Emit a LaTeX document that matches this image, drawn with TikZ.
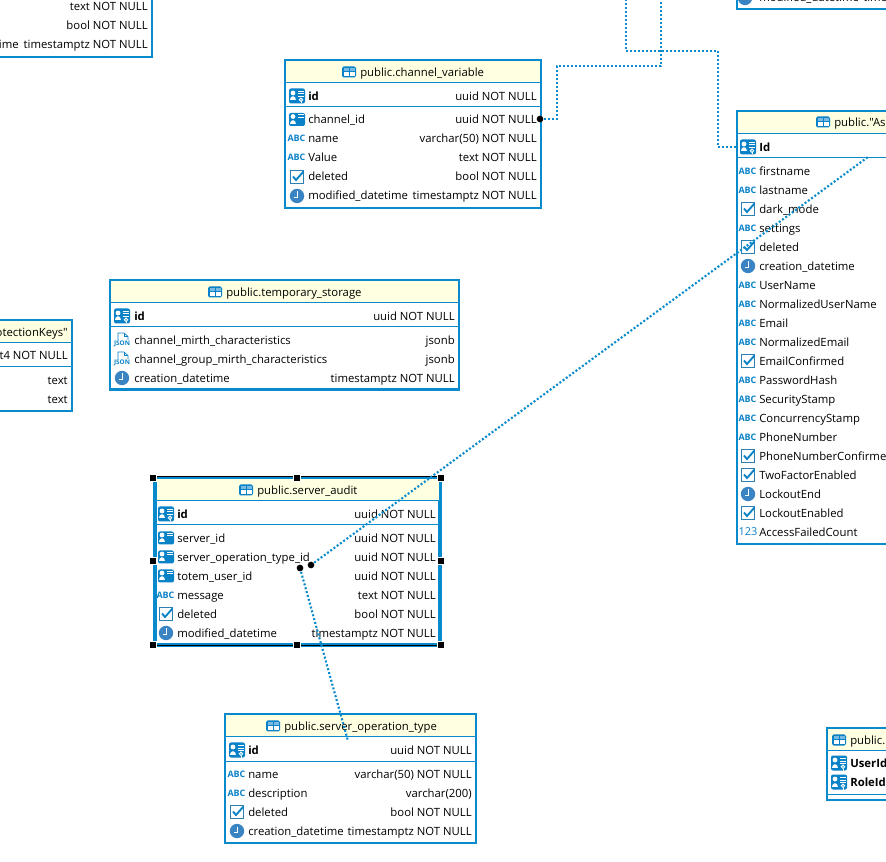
\documentclass[tikz,border=0pt]{standalone}
\usepackage{fontspec}
\setmainfont{Open Sans}[Ligatures=TeXOff]
\newcounter{nd}
\definecolor{bl}{RGB}{8,138,204}
\definecolor{ic}{RGB}{10,130,200}
\definecolor{clk}{RGB}{58,132,196}
\definecolor{hd}{RGB}{255,255,225}
\tikzset{
  tbl/.style={draw=bl,line width=1.6pt,fill=white},
  hdr/.style={fill=hd,draw=none},
  dv/.style={draw=bl,line width=.75pt},
  lnk/.style={draw=bl,line width=1.6pt,dash pattern=on 1.5pt off 1.5pt},
  dotb/.style={circle,fill=black,inner sep=0pt,minimum size=5pt},
  hnd/.style={fill=black,draw=white,line width=.5pt,inner sep=0pt,minimum size=5pt},
  tx/.style={inner sep=0pt,font=\fontsize{8.5}{10}\selectfont,text=black},
  txb/.style={tx,font=\fontsize{8.5}{10}\selectfont\bfseries},
  abc/.style={inner sep=0pt,text=ic,font=\fontsize{6.7}{8}\selectfont\bfseries},
}
% icons
\newcommand{\personicon}{%
  \fill[white] (-4,-3) circle (2.4);
  \fill[white] (-7.2,4.5) .. controls (-7.2,-.5) and (-0.8,-.5) .. (-0.8,4.5) -- cycle;
  \fill[white] (1,-5) rectangle (6.5,-4);
  \fill[white] (1,-2.5) rectangle (6.5,-1.5);}
\newcommand{\iconPK}[2]{\begin{scope}[shift={(#1,#2)}]
  \fill[ic,rounded corners=1.5pt] (-8,-7.5) rectangle (8,7.5);
  \personicon
  \fill[white] (1,0) rectangle (6.5,1);
  \draw[white,line width=.7pt] (4,3.8) circle (1.7);
  \draw[white,line width=.7pt] (4,5.5) -- (4,7.5);
  \end{scope}}
\newcommand{\iconFK}[2]{\begin{scope}[shift={(#1,#2)}]
  \fill[ic,rounded corners=1.5pt] (-8,-6.5) rectangle (8,6.5);
  \personicon
  \end{scope}}
\newcommand{\iconABC}[2]{\stepcounter{nd}\node[abc] (n\thend) at (#1-.5,#2) {ABC};}
\newcommand{\iconNUM}[2]{\stepcounter{nd}\node[inner sep=0pt,text=ic,font=\fontsize{8.2}{9}\selectfont] (n\thend) at (#1,#2) {123};}
\newcommand{\iconCK}[2]{\begin{scope}[shift={(#1,#2)}]
  \draw[ic!70!gray,line width=.75pt,fill=white] (-6.5,-6.5) rectangle (6.5,6.5);
  \draw[ic,line width=1.4pt] (-4,-.5) -- (-1,3) -- (6.5,-5.5);
  \end{scope}}
\newcommand{\iconCL}[2]{\begin{scope}[shift={(#1,#2)}]
  \fill[clk] (0,0) circle (7.2);
  \draw[white,line width=.8pt] (.5,-4.5) -- (.5,1.2) -- (-3.5,1.2);
  \end{scope}}
\newcommand{\iconJS}[2]{\begin{scope}[shift={(#1,#2)}]
  \draw[ic,line width=.5pt] (-4,0) -- (-4,-7) -- (2,-7) -- (6,-3.5) -- (6,0);
  \draw[ic,line width=.5pt] (2,-7) -- (2,-3.5) -- (6,-3.5);
  \stepcounter{nd}\node[inner sep=0pt,text=ic,font=\fontsize{4.8}{5}\selectfont\bfseries] (n\thend) at (0,3.5) {JSON};
  \end{scope}}
\newcommand{\iconTB}[2]{\begin{scope}[shift={(#1,#2)}]
  \fill[ic,rounded corners=1.2pt] (-7,-5.5) rectangle (7,5.5);
  \fill[ic!55!white] (-5.5,-3.5) rectangle (-.5,-.8);
  \fill[ic!55!white] (.5,-3.5) rectangle (5.5,-.8);
  \fill[white] (-5.5,.3) rectangle (-.5,4);
  \fill[white] (.5,.3) rectangle (5.5,4);
  \end{scope}}
% frame: x0 y0 x1 y1 header-divider second-divider
\newcommand{\tframe}[6]{%
  \filldraw[tbl] (#1,#2) rectangle (#3,#4);
  \fill[hdr] (#1+1,#2+1) rectangle (#3-1,#5);
  \draw[dv] (#1,#5) -- (#3,#5);
  \draw[dv] (#1,#6) -- (#3,#6);}
% title: icon-x y text
\newcommand{\ttl}[3]{\iconTB{#1}{#2}\stepcounter{nd}\node[tx,anchor=base west] (n\thend) at (#1+11,#2+4.8) {#3};}
% name: x y text ; type: xright y text
\newcommand{\nm}[3]{\stepcounter{nd}\node[tx,anchor=base west] (n\thend) at (#1,#2+4.8) {#3};}
\newcommand{\nmb}[3]{\stepcounter{nd}\node[txb,anchor=base west] (n\thend) at (#1,#2+4.8) {#3};}
\newcommand{\ty}[3]{\stepcounter{nd}\node[tx,anchor=base east] (n\thend) at (#1,#2+4.8) {#3};}
\begin{document}
\begin{tikzpicture}[x=.75pt,y=-.75pt]
\useasboundingbox (0,0) rectangle (886,862);
\clip (0,0) rectangle (886,862);
\fill[white] (0,0) rectangle (886,862);

% top-left partial table
\filldraw[tbl] (-50,-30) rectangle (152,57);
\ty{148}{6}{text NOT NULL}
\ty{148}{25}{bool NOT NULL}
\ty{148}{44}{timestamptz NOT NULL}
\stepcounter{nd}\node[tx,anchor=base east] (n\thend) at (19,48.8) {modified\_datetime};

% top-right partial table
\filldraw[tbl] (737,-50) rectangle (950,9);
\iconCL{745}{-2}
\nm{759}{-3}{modified\_datetime}
\stepcounter{nd}\node[tx,anchor=base west] (n\thend) at (863,1.8) {timestamptz NOT NULL};

% channel_variable
\tframe{285}{60}{541}{208}{83}{107}
\ttl{349}{72}{public.channel\_variable}
\iconPK{297}{96}\nmb{308}{96}{id}\ty{537}{96}{uuid NOT NULL}
\iconFK{297}{119.5}\nm{308}{119}{channel\_id}\ty{537}{119}{uuid NOT NULL}
\iconABC{297}{138}\nm{308}{138}{name}\ty{537}{138}{varchar(50) NOT NULL}
\iconABC{297}{157}\nm{308}{157}{Value}\ty{537}{157}{text NOT NULL}
\iconCK{297}{177}\nm{308}{176}{deleted}\ty{537}{176}{bool NOT NULL}
\iconCL{297}{196}\nm{308}{195}{modified\_datetime}\ty{537}{195}{timestamptz NOT NULL}

% temporary_storage
\tframe{110}{280}{459}{389.5}{303}{327}
\ttl{215}{292}{public.temporary\_storage}
\iconPK{122}{316}\nmb{134}{316}{id}\ty{455}{316}{uuid NOT NULL}
\iconJS{122}{340}\nm{134}{340}{channel\_mirth\_characteristics}\ty{455}{340}{jsonb}
\iconJS{122}{359}\nm{134}{359}{channel\_group\_mirth\_characteristics}\ty{455}{359}{jsonb}
\iconCL{122}{378}\nm{134}{378}{creation\_datetime}\ty{455}{378}{timestamptz NOT NULL}

% DataProtectionKeys partial
\tframe{-60}{320}{72}{411}{343}{367}
\stepcounter{nd}\node[tx,anchor=base east] (n\thend) at (68,336.8) {public."DataProtectionKeys"};
\ty{68}{355}{int4 NOT NULL}
\ty{68}{380}{text}
\ty{68}{399}{text}

% server_audit
\filldraw[tbl,line width=2.6pt] (155,478) rectangle (440,645);
\fill[hdr] (156.5,479) rectangle (438.5,501);
\draw[dv] (155,501) -- (440,501);
\draw[dv] (155,525) -- (440,525);
\draw[black,line width=.75pt] (154,477) -- (441,477) (154,646) -- (441,646);
\ttl{246}{490}{public.server\_audit}
\iconPK{166}{514}\nmb{177}{514}{id}\ty{436}{514}{uuid NOT NULL}
\iconFK{166}{538}\nm{177}{538}{server\_id}\ty{436}{538}{uuid NOT NULL}
\iconFK{166}{557}\nm{177}{557}{server\_operation\_type\_id}\ty{436}{557}{uuid NOT NULL}
\iconFK{166}{576}\nm{177}{576}{totem\_user\_id}\ty{436}{576}{uuid NOT NULL}
\iconABC{166}{595}\nm{177}{595}{message}\ty{436}{595}{text NOT NULL}
\iconCK{166}{614}\nm{177}{614}{deleted}\ty{436}{614}{bool NOT NULL}
\iconCL{166}{633}\nm{177}{633}{modified\_datetime}\ty{436}{633}{timestamptz NOT NULL}
\foreach \hx/\hy [count=\hi] in {153/478,297/478,441/478,153/561,441/561,153/645,297/645,441/645}
  \node[hnd] (h\hi) at (\hx,\hy) {};

% server_operation_type
\tframe{225}{714}{476}{843}{737}{761}
\ttl{273}{726}{public.server\_operation\_type}
\iconPK{237}{750}\nmb{248}{750}{id}\ty{472}{750}{uuid NOT NULL}
\iconABC{237}{774}\nm{248}{774}{name}\ty{472}{774}{varchar(50) NOT NULL}
\iconABC{237}{793}\nm{248}{793}{description}\ty{472}{793}{varchar(200)}
\iconCK{237}{812}\nm{248}{812}{deleted}\ty{472}{812}{bool NOT NULL}
\iconCL{237}{831}\nm{248}{831}{creation\_datetime}\ty{472}{831}{timestamptz NOT NULL}

% AspNetUsers
\tframe{737}{111}{950}{544}{134}{158}
\ttl{823}{122}{public."AspNetUsers"}
\iconPK{748}{147}\nmb{759}{147}{Id}
\iconABC{748}{171}\nm{759}{171}{firstname}
\iconABC{748}{190}\nm{759}{190}{lastname}
\iconCK{748}{209}\nm{759}{209}{dark\_mode}
\iconABC{748}{228}\nm{759}{228}{settings}
\iconCK{748}{247}\nm{759}{247}{deleted}
\iconCL{748}{266}\nm{759}{266}{creation\_datetime}
\iconABC{748}{285}\nm{759}{285}{UserName}
\iconABC{748}{304}\nm{759}{304}{NormalizedUserName}
\iconABC{748}{323}\nm{759}{323}{Email}
\iconABC{748}{342}\nm{759}{342}{NormalizedEmail}
\iconCK{748}{361}\nm{759}{361}{EmailConfirmed}
\iconABC{748}{380}\nm{759}{380}{PasswordHash}
\iconABC{748}{399}\nm{759}{399}{SecurityStamp}
\iconABC{748}{418}\nm{759}{418}{ConcurrencyStamp}
\iconABC{748}{437}\nm{759}{437}{PhoneNumber}
\iconCK{748}{456}\nm{759}{456}{PhoneNumberConfirmed}
\iconCK{748}{475}\nm{759}{475}{TwoFactorEnabled}
\iconCL{748}{494}\nm{759}{494}{LockoutEnd}
\iconCK{748}{513}\nm{759}{513}{LockoutEnabled}
\iconNUM{748}{532}\nm{759}{532}{AccessFailedCount}

% AspNetUserRoles
\tframe{827}{728}{950}{800}{750}{794}
\ttl{839}{740}{public."AspNetUserRoles"}
\iconPK{839}{763}\nmb{850}{763}{UserId}
\iconPK{839}{782}\nmb{850}{782}{RoleId}

% connectors
\coordinate (cvdot) at (540,119);
\coordinate (upA) at (661,-5);
\coordinate (upB) at (626,-5);
\coordinate (aspid) at (738,147);
\coordinate (aspdiag) at (868,157);
\coordinate (sadot1) at (311,565);
\coordinate (sadot2) at (300,568);
\coordinate (optop) at (348,741);
\draw[lnk] (cvdot) -- (557,119) -- (557,66) -- (661,66) -- (upA);
\draw[lnk] (upB) -- (626,51) -- (718,51) -- (718,147) -- (aspid);
\draw[lnk] (sadot1) -- (aspdiag);
\draw[lnk] (sadot2) -- (optop);
\node[dotb] (d1) at (cvdot) {};
\node[dotb] (d2) at (sadot1) {};
\node[dotb] (d3) at (sadot2) {};
\end{tikzpicture}
\end{document}
